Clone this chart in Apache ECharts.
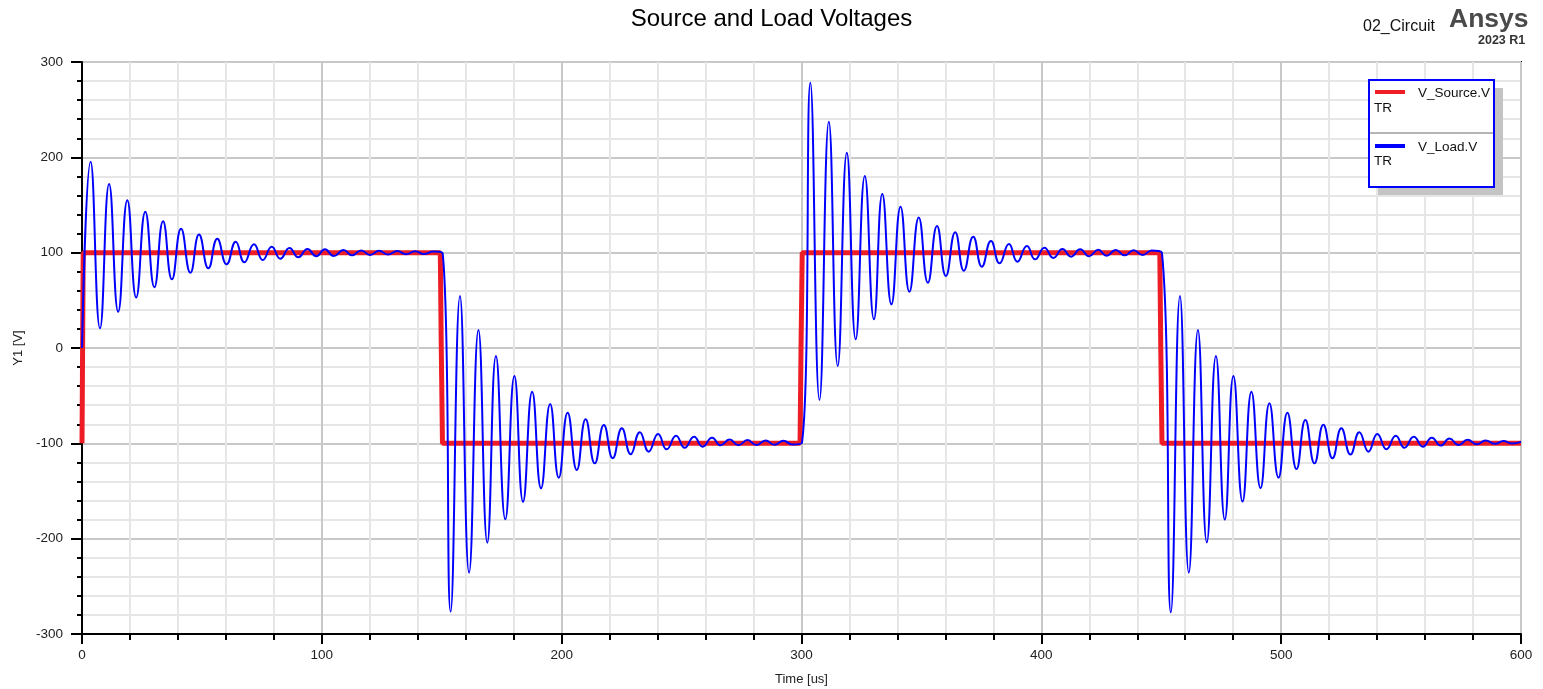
<!DOCTYPE html>
<html>
<head>
<meta charset="utf-8">
<script src="https://cdn.jsdelivr.net/npm/echarts@6/dist/echarts.min.js"></script>
<style>
html,body{margin:0;padding:0;background:#fff;}
#chart{width:1543px;height:689px;}
</style>
</head>
<body>
<div id="chart"></div>
<script>
// ---- Data (time in us, voltage in V) ----
const sourceStep = [
  [0, -100], [0.5, 100], [149.4, 100], [149.8, 0], [150.3, -100],
  [299.4, -100], [299.8, 0], [300.3, 100], [449.4, 100], [449.8, 0],
  [450.3, -100], [600, -100]
];

const loadSeg1 = [
  [0, 0], [3.6, 195.4], [7.5, 20.6], [11.3, 172], [15.1, 38], [18.9, 155],
  [22.6, 53], [26.4, 143], [30.2, 63.7], [33.8, 133], [37.5, 72], [41.3, 125],
  [45.2, 79], [48.8, 119], [52.7, 83.6], [56.4, 114.7], [60.3, 87.8], [64.1, 111.5],
  [67.7, 89.9], [71.7, 108.8], [75.4, 92.3], [79.1, 106.3], [82.7, 93.7], [86.5, 104.9],
  [90.2, 95.1], [94.0, 103.8], [97.7, 96.2], [101.3, 103.5], [105, 96.5], [109, 102.8],
  [112.6, 97.2], [116.4, 102.4], [120.1, 97.6], [123.9, 102], [127.6, 98], [131.4, 101.7],
  [135.1, 98.3], [138.9, 101.5], [142.6, 98.5], [146.4, 101.2]
];

const loadSeg2 = [
  [150.4, 99], [153.7, -276.6], [157.6, 54.5], [161.4, -235.7], [165.3, 18.9], [169, -204.2],
  [172.6, -8.4], [176.5, -179.7], [180.3, -29.4], [183.9, -161.2], [187.7, -45.8], [191.4, -147.2],
  [195.2, -58.7], [198.8, -136], [202.5, -67.8], [206.3, -128], [210, -74.8], [213.8, -121],
  [217.6, -80.8], [221.3, -115.7], [225.1, -84.3], [228.8, -111.5], [232.6, -88.4], [236.3, -108.7],
  [240.2, -90.2], [243.8, -106.3], [247.7, -92], [251.3, -104.6], [255.2, -93], [258.8, -103.5],
  [262.7, -94.1], [266.3, -102.1], [270, -96], [273.7, -102], [277.5, -96.6], [281.2, -101.8],
  [285, -97], [288.7, -101.5], [292.5, -97.4], [296.2, -101.2]
];

const loadSeg3 = [
  [300.2, -99.5], [303.7, 278.3], [307.5, -54.5], [311.4, 237.4], [315.1, -18.9], [318.9, 204.9],
  [322.6, 9.1], [326.4, 180.4], [330.2, 30.1], [333.7, 161.5], [337.5, 45.8], [341.3, 148.2],
  [345, 59], [348.9, 137], [352.7, 68.5], [356.5, 128], [360.2, 75.5], [364.1, 121.4],
  [367.7, 81.1], [371.6, 116.8], [375.2, 85.3], [379, 112.2], [382.6, 88.8], [386.5, 109.1],
  [390, 90.5], [394, 107], [397.4, 93], [401.3, 105.2], [405, 94.4], [408.8, 103.8],
  [412.4, 95.8], [416.2, 103.5], [419.9, 96.3], [423.7, 103], [427.2, 96.7], [431, 102.8],
  [434.7, 97.2], [438.5, 102.5], [442.2, 97.5], [446, 102.2]
];

const loadSeg4 = [
  [450.3, 99.5], [454, -277.3], [457.8, 54.5], [461.5, -235.7], [465.3, 18.9], [469, -204],
  [472.8, -8.4], [476.5, -180], [480.1, -29.4], [483.9, -161], [487.6, -45.8], [491.4, -147],
  [495.1, -58], [498.9, -136], [502.6, -68], [506.4, -127], [510.1, -75.5], [513.9, -121],
  [517.6, -80.4], [521.4, -115.7], [525.1, -84.3], [528.9, -111.8], [532.6, -88.4], [536.4, -108.7],
  [540.1, -90.2], [543.9, -106.3], [547.8, -92], [551.4, -104.6], [555.3, -93], [559.1, -103.5],
  [562.8, -94.1], [566.5, -102.4], [570.2, -95], [574, -101.8], [577.7, -96.3], [581.6, -101],
  [585.2, -97], [589.2, -100.5], [592.7, -97.5], [596.2, -100.2], [600, -98.5]
];

const seriesNames = ['V_Source.V', 'V_Load.V'];
const seriesColors = ['#ee1c25', '#0000ff'];

const loadData = loadSeg1.concat(loadSeg2, loadSeg3, loadSeg4);

const FONT = '"Liberation Sans", Arial, sans-serif';

const chart = echarts.init(document.getElementById('chart'), null, {renderer: 'canvas'});

chart.setOption({
  backgroundColor: '#ffffff',
  animation: false,
  title: {
    text: 'Source and Load Voltages',
    left: 'center', top: 2,
    textStyle: {fontFamily: FONT, fontSize: 24, fontWeight: 'normal', color: '#000'}
  },
  grid: {
    left: 82, right: 22, top: 62, bottom: 55,
    outerBoundsMode: 'none', containLabel: false,
    show: true, borderColor: '#000', borderWidth: 2, backgroundColor: '#fff'
  },
  xAxis: {
    type: 'value', min: 0, max: 600, interval: 100,
    name: 'Time [us]', nameLocation: 'middle', nameGap: 39,
    nameTextStyle: {fontFamily: FONT, fontSize: 13, color: '#222'},
    axisLine: {show: true, onZero: false, lineStyle: {color: '#000', width: 2}},
    axisTick: {show: true, length: 10, lineStyle: {color: '#000', width: 2}},
    minorTick: {show: true, splitNumber: 5, length: 6, lineStyle: {color: '#000', width: 2}},
    axisLabel: {fontFamily: FONT, fontSize: 13.5, color: '#222', margin: 14},
    splitLine: {show: true, lineStyle: {color: '#c8c8c8', width: 2}},
    minorSplitLine: {show: true, lineStyle: {color: '#e6e6e6', width: 2}}
  },
  yAxis: {
    type: 'value', min: -300, max: 300, interval: 100,
    name: 'Y1 [V]', nameLocation: 'middle', nameGap: 54, nameRotate: 90,
    nameTextStyle: {fontFamily: FONT, fontSize: 13, color: '#222'},
    axisLine: {show: true, onZero: false, lineStyle: {color: '#000', width: 2}},
    axisTick: {show: true, length: 11, lineStyle: {color: '#000', width: 2}},
    minorTick: {show: true, splitNumber: 5, length: 5, lineStyle: {color: '#000', width: 2}},
    axisLabel: {fontFamily: FONT, fontSize: 13.5, color: '#222', margin: 19},
    splitLine: {show: true, lineStyle: {color: '#c8c8c8', width: 2}},
    minorSplitLine: {show: true, lineStyle: {color: '#e6e6e6', width: 2}}
  },
  series: [
    {
      name: seriesNames[0], type: 'line', data: sourceStep,
      showSymbol: false, symbol: 'none',
      lineStyle: {color: seriesColors[0], width: 5},
      z: 2
    },
    {
      name: seriesNames[1], type: 'line', data: loadData,
      showSymbol: false, symbol: 'none', smooth: 0.5,
      lineStyle: {color: seriesColors[1], width: 2},
      z: 3
    }
  ],
  graphic: [
    {type: 'text', left: 1363, top: 19,
      style: {text: '02_Circuit', fontFamily: FONT, fontSize: 16, fill: '#111'}},
    {type: 'text', left: 1449, top: 6,
      style: {text: 'Ansys', fontFamily: FONT, fontSize: 26.5, fontWeight: 'bold', fill: '#4a4a4a'}},
    {type: 'text', left: 1478, top: 34,
      style: {text: '2023 R1', fontFamily: FONT, fontSize: 12.5, fontWeight: 'bold', fill: '#333'}},
    // legend box
    {type: 'rect', shape: {x: 1378, y: 88, width: 125, height: 107},
      style: {fill: '#c4c4c4'}, z: 100},
    {type: 'rect', shape: {x: 1369, y: 80, width: 125, height: 107},
      style: {fill: '#fff', stroke: '#0000ff', lineWidth: 2}, z: 101},
    {type: 'line', shape: {x1: 1370, y1: 133, x2: 1493, y2: 133},
      style: {stroke: '#b4b4b4', lineWidth: 2}, z: 102},
    {type: 'line', shape: {x1: 1375, y1: 92, x2: 1405, y2: 92},
      style: {stroke: seriesColors[0], lineWidth: 4}, z: 102},
    {type: 'text', x: 1418, y: 93, z: 102,
      style: {text: seriesNames[0], fontFamily: FONT, fontSize: 13.5, fill: '#111', verticalAlign: 'middle'}},
    {type: 'text', x: 1374, y: 108, z: 102,
      style: {text: 'TR', fontFamily: FONT, fontSize: 13.5, fill: '#111', verticalAlign: 'middle'}},
    {type: 'line', shape: {x1: 1375, y1: 146, x2: 1405, y2: 146},
      style: {stroke: seriesColors[1], lineWidth: 4}, z: 102},
    {type: 'text', x: 1418, y: 147, z: 102,
      style: {text: seriesNames[1], fontFamily: FONT, fontSize: 13.5, fill: '#111', verticalAlign: 'middle'}},
    {type: 'text', x: 1374, y: 161, z: 102,
      style: {text: 'TR', fontFamily: FONT, fontSize: 13.5, fill: '#111', verticalAlign: 'middle'}}
  ]
});
</script>
</body>
</html>
